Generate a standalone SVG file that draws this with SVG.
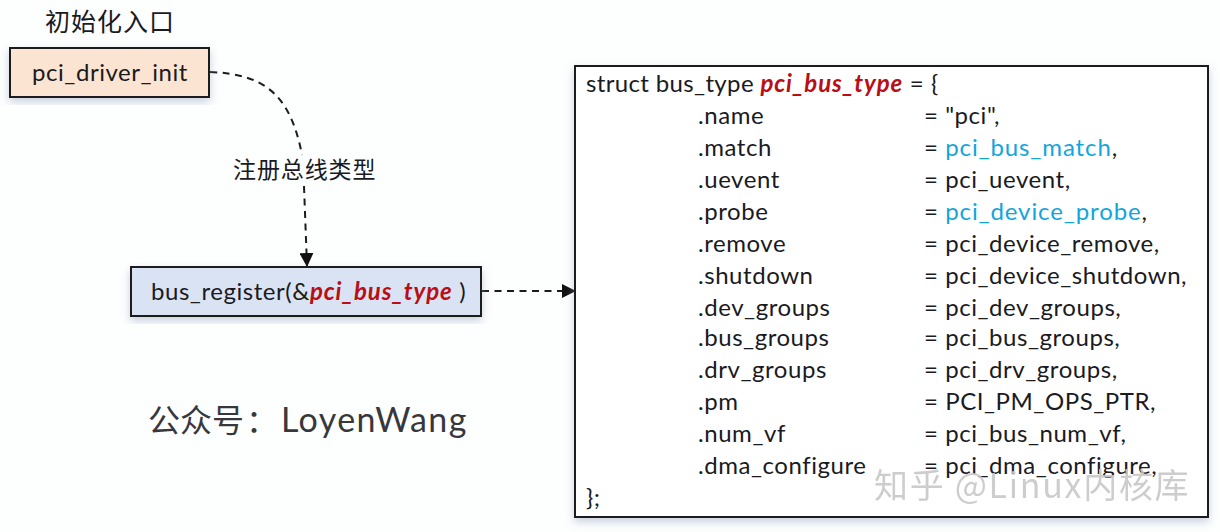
<svg xmlns="http://www.w3.org/2000/svg" width="1220" height="532" viewBox="0 0 1220 532">
<style>
text{font-family:"Lato","Open Sans","Noto Sans CJK SC",sans-serif;fill:#1a1a1f}
.c{font-family:"Noto Sans CJK SC","Noto Sans",sans-serif}
.t{font-size:24px;letter-spacing:.55px}
.box{stroke:#1c1c1f;stroke-width:2}
.k{fill:#b80e14;font-weight:700;font-style:italic;letter-spacing:.9px}
.b{fill:#12a5dc;letter-spacing:.9px}
.d{fill:none;stroke:#1c1c1f;stroke-width:2;stroke-dasharray:7 5.5}
</style>
<defs>
<filter id="s" x="-5%" y="-10%" width="110%" height="125%"><feDropShadow dx="0" dy="4" stdDeviation="4" flood-color="#8a9ab8" flood-opacity=".45"/></filter>
<marker id="a" markerWidth="14" markerHeight="14" refX="13" refY="7" orient="auto" markerUnits="userSpaceOnUse"><path d="M0 0L14 7L0 14Z" fill="#111"/></marker>
</defs>
<rect width="1220" height="532" fill="#fdfefe"/>
<text class="c" x="45" y="31" font-size="25" letter-spacing="1">初始化入口</text>
<g id="connectors">
<path class="d" d="M210 72C262 74 290 92 302 155"/>
<path class="d" d="M304 186L307 266" marker-end="url(#a)"/>
<path class="d" d="M482 291H575" marker-end="url(#a)"/>
</g>
<g id="pci_driver_init">
<rect class="box" x="10" y="48" width="199" height="49" fill="#fce4d2" filter="url(#s)"/>
<text class="t" x="32" y="81">pci_driver_init</text>
</g>
<g id="label"><text class="c" x="233" y="178" font-size="23" letter-spacing=".9">注册总线类型</text></g>
<g id="bus_register">
<rect class="box" x="131" y="267" width="350" height="49" fill="#dae3f3" filter="url(#s)"/>
<text class="t" x="151" y="300">bus_register(&amp;<tspan class="k">pci_bus_type</tspan> )</text>
</g>
<g id="bus_type">
<rect class="box" x="575" y="66" width="633" height="451" fill="#fff" filter="url(#s)"/>
<g class="t">
<text class="t" x="586" y="92"><tspan letter-spacing=".35">struct bus_type </tspan><tspan class="k">pci_bus_type</tspan> = {</text>
<text class="t" x="698" y="124">.name</text><text class="t" x="924" y="124">= "pci",</text>
<text class="t" x="698" y="156">.match</text><text class="t" x="924" y="156">= <tspan class="b">pci_bus_match</tspan>,</text>
<text class="t" x="698" y="188">.uevent</text><text class="t" x="924" y="188">= pci_uevent,</text>
<text class="t" x="698" y="220">.probe</text><text class="t" x="924" y="220">= <tspan class="b">pci_device_probe</tspan>,</text>
<text class="t" x="698" y="252">.remove</text><text class="t" x="924" y="252">= pci_device_remove,</text>
<text class="t" x="698" y="284">.shutdown</text><text class="t" x="924" y="284">= pci_device_shutdown,</text>
<text class="t" x="698" y="316">.dev_groups</text><text class="t" x="924" y="316">= pci_dev_groups,</text>
<text class="t" x="698" y="346">.bus_groups</text><text class="t" x="924" y="346">= pci_bus_groups,</text>
<text class="t" x="698" y="378">.drv_groups</text><text class="t" x="924" y="378">= pci_drv_groups,</text>
<text class="t" x="698" y="410">.pm</text><text class="t" x="924" y="410">= PCI_PM_OPS_PTR,</text>
<text class="t" x="698" y="442">.num_vf</text><text class="t" x="924" y="442">= pci_bus_num_vf,</text>
<text class="t" x="698" y="474">.dma_configure</text><text class="t" x="924" y="474">= pci_dma_configure,</text>
<text class="t" x="586" y="506">};</text>
</g>
</g>
<text class="c" x="148" y="432" font-size="32" style="fill:#38383c">公众号<tspan dx="2">：</tspan><tspan x="281" font-family="Lato,sans-serif" font-size="34" letter-spacing="1.4">LoyenWang</tspan></text>
<text class="c" x="874" y="498" font-size="34" letter-spacing="1.7" style="fill:#c8c8c8" opacity=".9">知乎 @Linux内核库</text>
</svg>
